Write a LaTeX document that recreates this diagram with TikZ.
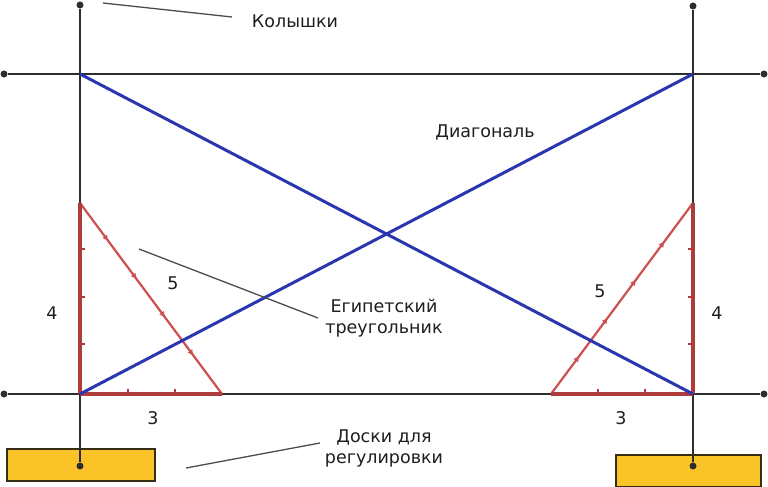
\documentclass[tikz,border=0pt]{standalone}
\usepackage{fontspec}
\setmainfont{DejaVu Sans}
\usetikzlibrary{decorations.markings,arrows.meta}
\definecolor{lineblack}{RGB}{45,45,45}
\definecolor{diagblue}{RGB}{40,55,175}
\definecolor{trired}{RGB}{205,80,80}
\definecolor{trileg}{RGB}{175,60,60}
\definecolor{boardfill}{RGB}{250,195,40}
\definecolor{boarddraw}{RGB}{55,45,20}
\definecolor{txt}{RGB}{30,30,30}
\begin{document}
\begin{tikzpicture}[x=1pt,y=-1pt,
  peg/.style={circle,fill=lineblack,inner sep=0pt,minimum size=7pt},
  cord/.style={draw=lineblack,line width=2.5pt},
  diag/.style={draw=diagblue,line width=3pt},
  leg/.style={draw=trileg,line width=4pt},
  tick/.style={draw=trileg,line width=2pt},
  hyp/.style={draw=trired,line width=2.2pt,
    postaction={decorate},
    decoration={markings,
      mark=at position 0.2 with {\arrow{Latex[length=6pt,width=6pt]}},
      mark=at position 0.4 with {\arrow{Latex[length=6pt,width=6pt]}},
      mark=at position 0.6 with {\arrow{Latex[length=6pt,width=6pt]}},
      mark=at position 0.8 with {\arrow{Latex[length=6pt,width=6pt]}}}},
  board/.style={draw=boarddraw,fill=boardfill,line width=2pt,inner sep=0pt,minimum height=32pt},
  lbl/.style={text=txt,font=\fontsize{17.5}{21}\selectfont,inner sep=0pt,align=center},
  leader/.style={draw=lineblack!85,line width=1.3pt}]
\useasboundingbox (0,0) rectangle (768,487);
\fill[white] (0,0) rectangle (768,487);

% boards
\node[board,minimum width=148pt] (boardL) at (81,465) {};
\node[board,minimum width=145pt] (boardR) at (688,471) {};

% pegs
\node[peg] (pegTL) at (80,5) {};
\node[peg] (pegBL) at (80,466) {};
\node[peg] (pegTR) at (693,6) {};
\node[peg] (pegBR) at (693,466) {};
\node[peg] (pegL1) at (4,74) {};
\node[peg] (pegR1) at (764,74) {};
\node[peg] (pegL2) at (4,394) {};
\node[peg] (pegR2) at (764,394) {};

% corners
\coordinate (A) at (80,74);
\coordinate (B) at (693,74);
\coordinate (C) at (80,394);
\coordinate (D) at (693,394);

% cords
\draw[cord] (pegTL) -- (pegBL);
\draw[cord] (pegTR) -- (pegBR);
\draw[cord] (pegL1) -- (pegR1);
\draw[cord] (pegL2) -- (pegR2);

% left triangle
\coordinate (LT) at (80,203);
\coordinate (LH) at (222,394);
\draw[hyp] (LT) -- (LH);
\draw[leg] (C) -- (LT);
\draw[leg] (C) -- (LH);
\foreach \yy in {249,297,344} \draw[tick] (80,\yy) -- ++(5,0);
\foreach \xx in {128,175} \draw[tick] (\xx,394) -- ++(0,-5);

% right triangle
\coordinate (RT) at (693,203);
\coordinate (RH) at (551,394);
\draw[hyp] (RH) -- (RT);
\draw[leg] (D) -- (RT);
\draw[leg] (D) -- (RH);
\foreach \yy in {249,297,344} \draw[tick] (693,\yy) -- ++(-5,0);
\foreach \xx in {598,645} \draw[tick] (\xx,394) -- ++(0,-5);

% diagonals
\draw[diag] (A) -- (D);
\draw[diag] (C) -- (B);

% labels
\node[lbl] (kol) at (295,21) {Колышки};
\node[lbl] (diagl) at (485,132) {Диагональ};
\node[lbl] (egy) at (384,318) {Египетский\\треугольник};
\node[lbl] (dos) at (384,448) {Доски для\\регулировки};
\node[lbl] (fiveL) at (173,283) {5};
\node[lbl] (fourL) at (52,313) {4};
\node[lbl] (threeL) at (153,418) {3};
\node[lbl] (fiveR) at (600,291) {5};
\node[lbl] (fourR) at (717,313) {4};
\node[lbl] (threeR) at (621,418) {3};

% leaders
\coordinate (kolA) at (103,3);
\coordinate (kolB) at (232,17);
\draw[leader] (kolA) -- (kolB);
\coordinate (egA) at (139,249);
\coordinate (egB) at (318,318);
\draw[leader] (egA) -- (egB);
\coordinate (doA) at (186,468);
\coordinate (doB) at (320,443);
\draw[leader] (doA) -- (doB);
\end{tikzpicture}
\end{document}
